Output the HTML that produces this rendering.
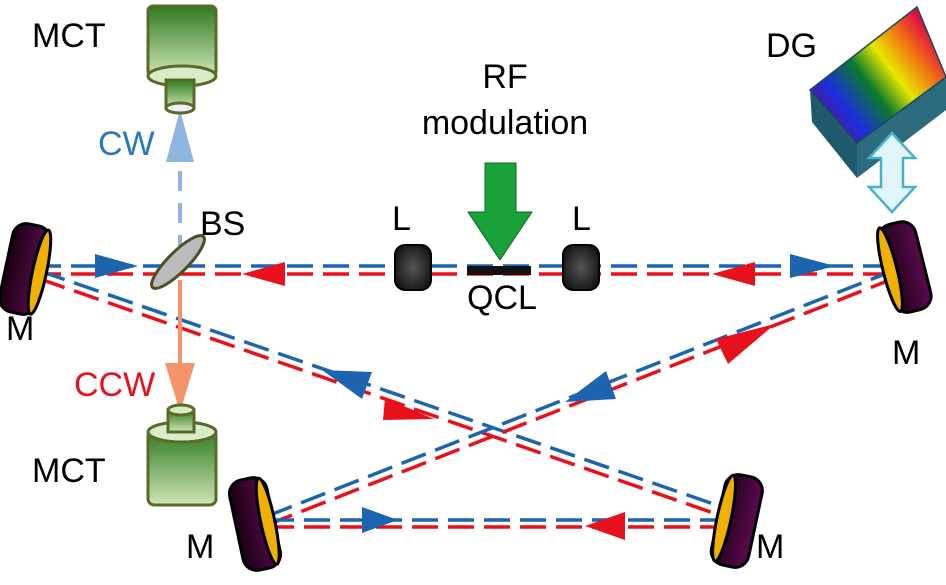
<!DOCTYPE html>
<html><head><meta charset="utf-8"><style>
body{margin:0;background:#fff;width:946px;height:580px;overflow:hidden}
text{font-family:"Liberation Sans",sans-serif;font-size:34px}
</style></head><body>
<svg width="946" height="580" viewBox="0 0 946 580" xmlns="http://www.w3.org/2000/svg">
<defs>
<linearGradient id="g" x1="0" y1="0" x2="0" y2="1"><stop offset="0" stop-color="#2f7a1e"/><stop offset="1" stop-color="#cfe6b8"/></linearGradient>
<linearGradient id="mir" x1="0" y1="0" x2="1" y2="0"><stop offset="0" stop-color="#1a0010"/><stop offset="1" stop-color="#5a0a50"/></linearGradient>
<linearGradient id="rb" gradientUnits="userSpaceOnUse" x1="830" y1="120" x2="935" y2="40"><stop offset="0" stop-color="#4a1aa0"/><stop offset="0.15" stop-color="#1a2ee0"/><stop offset="0.4" stop-color="#0a7a2a"/><stop offset="0.6" stop-color="#e8e800"/><stop offset="0.8" stop-color="#f07a10"/><stop offset="1" stop-color="#e01040"/></linearGradient>
<radialGradient id="lens" cx="0.5" cy="0.5" r="0.6"><stop offset="0" stop-color="#555"/><stop offset="1" stop-color="#111"/></radialGradient>
</defs>
<g stroke-width="3.5" fill="none" stroke-dasharray="26 10">
<line x1="35" y1="266" x2="895" y2="266" stroke="#1c64b0"/>
<line x1="35" y1="274" x2="895" y2="274" stroke="#e8101c"/>
<line x1="40" y1="271" x2="725" y2="508" stroke="#1c64b0"/>
<line x1="40" y1="279" x2="722" y2="516" stroke="#e8101c"/>
<line x1="895" y1="270" x2="270" y2="515" stroke="#1c64b0"/>
<line x1="895" y1="278" x2="272" y2="523" stroke="#e8101c"/>
<line x1="268" y1="520" x2="728" y2="520" stroke="#1c64b0"/>
<line x1="268" y1="527" x2="728" y2="527" stroke="#e8101c"/>
</g>
<g>
<polygon points="95,254 138,266 95,278" fill="#1c64b0"/>
<polygon points="285,262 242,274 285,286" fill="#e8101c"/>
<polygon points="755,262 712,274 755,286" fill="#e8101c"/>
<polygon points="790,254 835,266 790,278" fill="#1c64b0"/>
<polygon points="322,370 372,372 362,399" fill="#1c64b0"/>
<polygon points="434,419 385,398 383,420" fill="#e8101c"/>
<polygon points="565,402 606,371 616,399" fill="#1c64b0"/>
<polygon points="775,324 716,339 728,364" fill="#e8101c"/>
<polygon points="362,507 398,520 362,533" fill="#1c64b0"/>
<polygon points="625,512 585,526 625,540" fill="#e8101c"/>
</g>
<line x1="180" y1="255" x2="180" y2="150" stroke="#8fb4e0" stroke-width="4" stroke-dasharray="20 12"/>
<polygon points="180,110 166,162 194,162" fill="#8fb4e0"/>
<line x1="180" y1="280" x2="180" y2="380" stroke="#f4936a" stroke-width="4"/>
<polygon points="180,412 165,363 195,363" fill="#f4936a"/>
<ellipse cx="178" cy="262" rx="36" ry="10" transform="rotate(-45 178 262)" fill="#bbb" stroke="#4a5022" stroke-width="3"/>
<rect x="148" y="6" width="68" height="70" rx="5" fill="url(#g)" stroke="#5a6a28" stroke-width="3"/>
<ellipse cx="182" cy="76" rx="34" ry="10" fill="#d8ecc8" stroke="#5a6a28" stroke-width="3"/>
<rect x="166" y="80" width="28" height="28" fill="url(#g)" stroke="#5a6a28" stroke-width="3"/>
<ellipse cx="180" cy="108" rx="14" ry="5" fill="#eef" stroke="#5a6a28" stroke-width="3"/>
<rect x="148" y="430" width="68" height="75" rx="6" fill="url(#g)" stroke="#5a6a28" stroke-width="3"/>
<ellipse cx="182" cy="432" rx="34" ry="10" fill="#d8ecc8" stroke="#5a6a28" stroke-width="3"/>
<rect x="168" y="410" width="26" height="22" fill="url(#g)" stroke="#5a6a28" stroke-width="3"/>
<ellipse cx="181" cy="410" rx="13" ry="5" fill="#d8ecc8" stroke="#5a6a28" stroke-width="3"/>
<g stroke="#000" stroke-width="3">
<g transform="rotate(12 25 268)"><rect x="6" y="224" width="38" height="90" rx="14" fill="url(#mir)"/><ellipse cx="40" cy="269" rx="7" ry="43" fill="#f0b000"/></g>
<g transform="rotate(-14 905 268)"><rect x="886" y="222" width="38" height="90" rx="14" fill="url(#mir)"/><ellipse cx="890" cy="266" rx="7" ry="43" fill="#f0b000"/></g>
<g transform="rotate(-12 255 524)"><rect x="236" y="478" width="38" height="92" rx="14" fill="url(#mir)"/><ellipse cx="268" cy="524" rx="7" ry="44" fill="#f0b000"/></g>
<g transform="rotate(12 737 520)"><rect x="718" y="475" width="38" height="92" rx="14" fill="url(#mir)"/><ellipse cx="724" cy="521" rx="7" ry="44" fill="#f0b000"/></g>
</g>
<rect x="395" y="245" width="36" height="45" rx="10" fill="url(#lens)" stroke="#000" stroke-width="2"/>
<rect x="563" y="245" width="36" height="45" rx="10" fill="url(#lens)" stroke="#000" stroke-width="2"/>
<rect x="467" y="266" width="64" height="9" fill="#111"/>
<polygon points="485,163 516,163 516,212 532,212 500,260 468,212 485,212" fill="#1aa23a" stroke="#0a6a20" stroke-width="1"/>
<polygon points="810,90 857,143 857,178 812,122" fill="#1f5a6c"/>
<polygon points="857,143 946,77 946,110 857,178" fill="#2b6b7d"/>
<polygon points="810,90 917,7 946,77 857,143" fill="url(#rb)" stroke="#1a4a5a" stroke-width="1.5"/>
<polygon points="892,133 915,158 903,158 903,187 915,187 892,212 869,187 881,187 881,158 869,158" fill="#e0f6fb" stroke="#4ab0cc" stroke-width="2.5"/>
<text x="32" y="47">MCT</text>
<text x="98" y="155" fill="#2a78c0">CW</text>
<text x="200" y="235">BS</text>
<text x="392" y="230">L</text>
<text x="572" y="230">L</text>
<text x="505" y="88" text-anchor="middle">RF</text>
<text x="505" y="134" text-anchor="middle">modulation</text>
<text x="502" y="309" text-anchor="middle">QCL</text>
<text x="6" y="340">M</text>
<text x="892" y="364">M</text>
<text x="74" y="396" fill="#e8101c">CCW</text>
<text x="32" y="482">MCT</text>
<text x="186" y="558">M</text>
<text x="756" y="558">M</text>
<text x="766" y="57">DG</text>
</svg>
</body></html>
